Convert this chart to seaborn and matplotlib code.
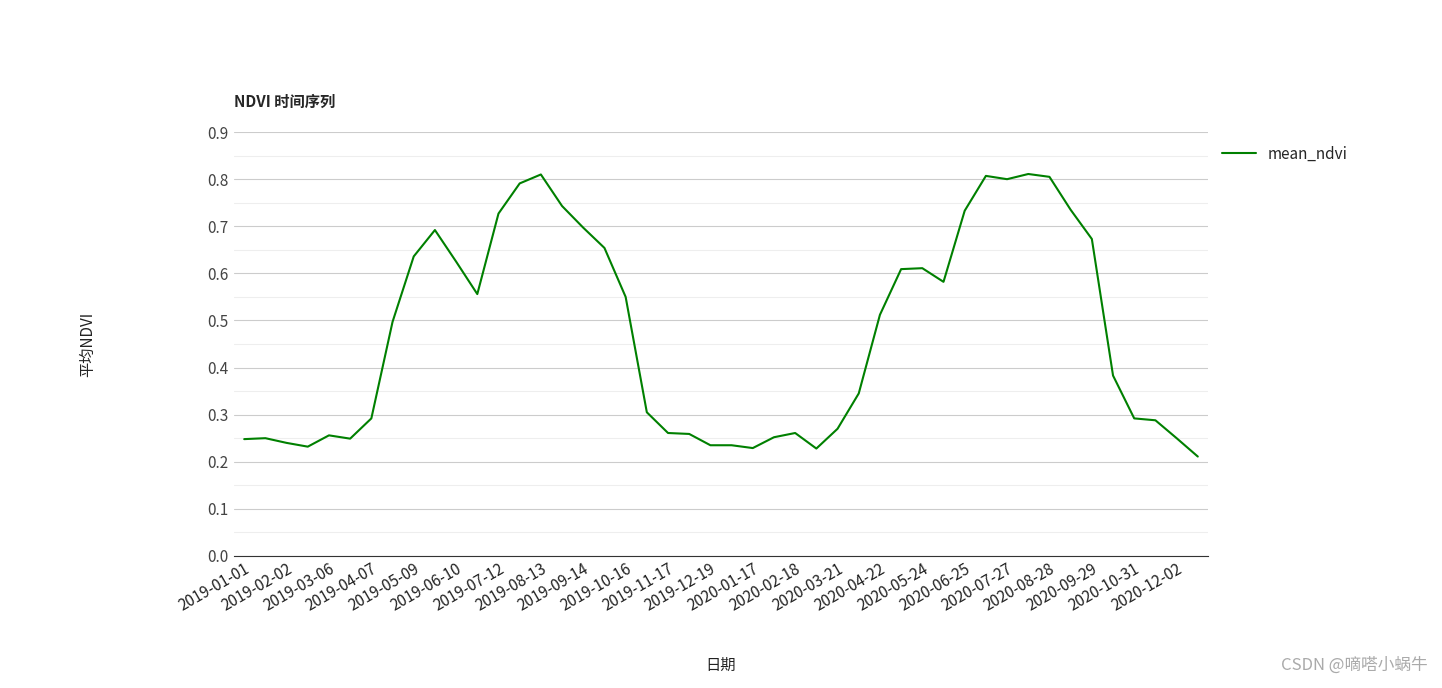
import numpy as np
import pandas as pd
import matplotlib
matplotlib.use("Agg")
import matplotlib.pyplot as plt
import seaborn as sns

dates = (["2019-%s" % d for d in
          ["01-01", "01-17", "02-02", "02-18", "03-06", "03-22", "04-07", "04-23",
           "05-09", "05-25", "06-10", "06-26", "07-12", "07-28", "08-13", "08-29",
           "09-14", "09-30", "10-16", "11-01", "11-17", "12-03", "12-19"]] +
         ["2020-%s" % d for d in
          ["01-01", "01-17", "02-02", "02-18", "03-05", "03-21", "04-06", "04-22",
           "05-08", "05-24", "06-09", "06-25", "07-11", "07-27", "08-12", "08-28",
           "09-13", "09-29", "10-15", "10-31", "11-16", "12-02", "12-18"]])
mean_ndvi = [0.248, 0.250, 0.240, 0.232, 0.256, 0.249, 0.292, 0.497, 0.636, 0.692,
             0.625, 0.556, 0.727, 0.791, 0.810, 0.743, 0.697, 0.654, 0.550, 0.305,
             0.261, 0.259, 0.235, 0.235, 0.229, 0.252, 0.261, 0.228, 0.270, 0.345,
             0.512, 0.609, 0.611, 0.582, 0.733, 0.807, 0.800, 0.811, 0.805, 0.735,
             0.673, 0.383, 0.292, 0.288, 0.250, 0.211]

df = pd.DataFrame({"idx": np.arange(len(dates)), "date": dates, "mean_ndvi": mean_ndvi})

sns.set_style("white")
plt.rcParams["font.family"] = ["Noto Sans CJK SC", "DejaVu Sans"]

fig = plt.figure(figsize=(14.42, 6.88), dpi=100)
ax = fig.add_axes([0.162, 0.192, 0.676, 0.616])
sns.lineplot(data=df, x="idx", y="mean_ndvi", color="#008000", linewidth=1.5,
             label="mean_ndvi", ax=ax)

ax.set_xlim(-0.5, len(dates) - 0.5)
ax.set_ylim(0, 0.9)
ax.set_yticks(np.arange(0, 0.91, 0.1))
ax.set_yticklabels([f"{v:.1f}" for v in np.arange(0, 0.91, 0.1)], color="#444444", fontsize=11)
ax.set_yticks(np.arange(0.05, 0.9, 0.1), minor=True)
ax.grid(axis="y", which="major", color="#cccccc", linewidth=0.8)
ax.grid(axis="y", which="minor", color="#eeeeee", linewidth=0.8)
ax.set_xticks(df["idx"][::2])
ax.set_xticklabels(df["date"][::2], rotation=30, ha="right", rotation_mode="anchor",
                   color="#222222", fontsize=11)
ax.tick_params(axis="both", length=0)
for s in ["top", "right", "left"]:
    ax.spines[s].set_visible(False)
ax.spines["bottom"].set_color("#333333")

ax.set_xlabel("日期", fontstyle="italic", fontsize=11, color="#222222", labelpad=30)
ax.set_ylabel("平均NDVI", fontstyle="italic", fontsize=11, color="#222222", labelpad=80)
ax.set_title("NDVI 时间序列", loc="left", fontweight="bold", fontsize=11, pad=18)
ax.legend(loc="upper left", bbox_to_anchor=(1.0, 1.0), frameon=False, fontsize=11,
          handlelength=2.2)

fig.text(0.99, 0.02, "CSDN @嘀嗒小蜗牛", ha="right", va="bottom", fontsize=12, color="#aaaaaa")
fig.savefig("out.png", dpi=100)
